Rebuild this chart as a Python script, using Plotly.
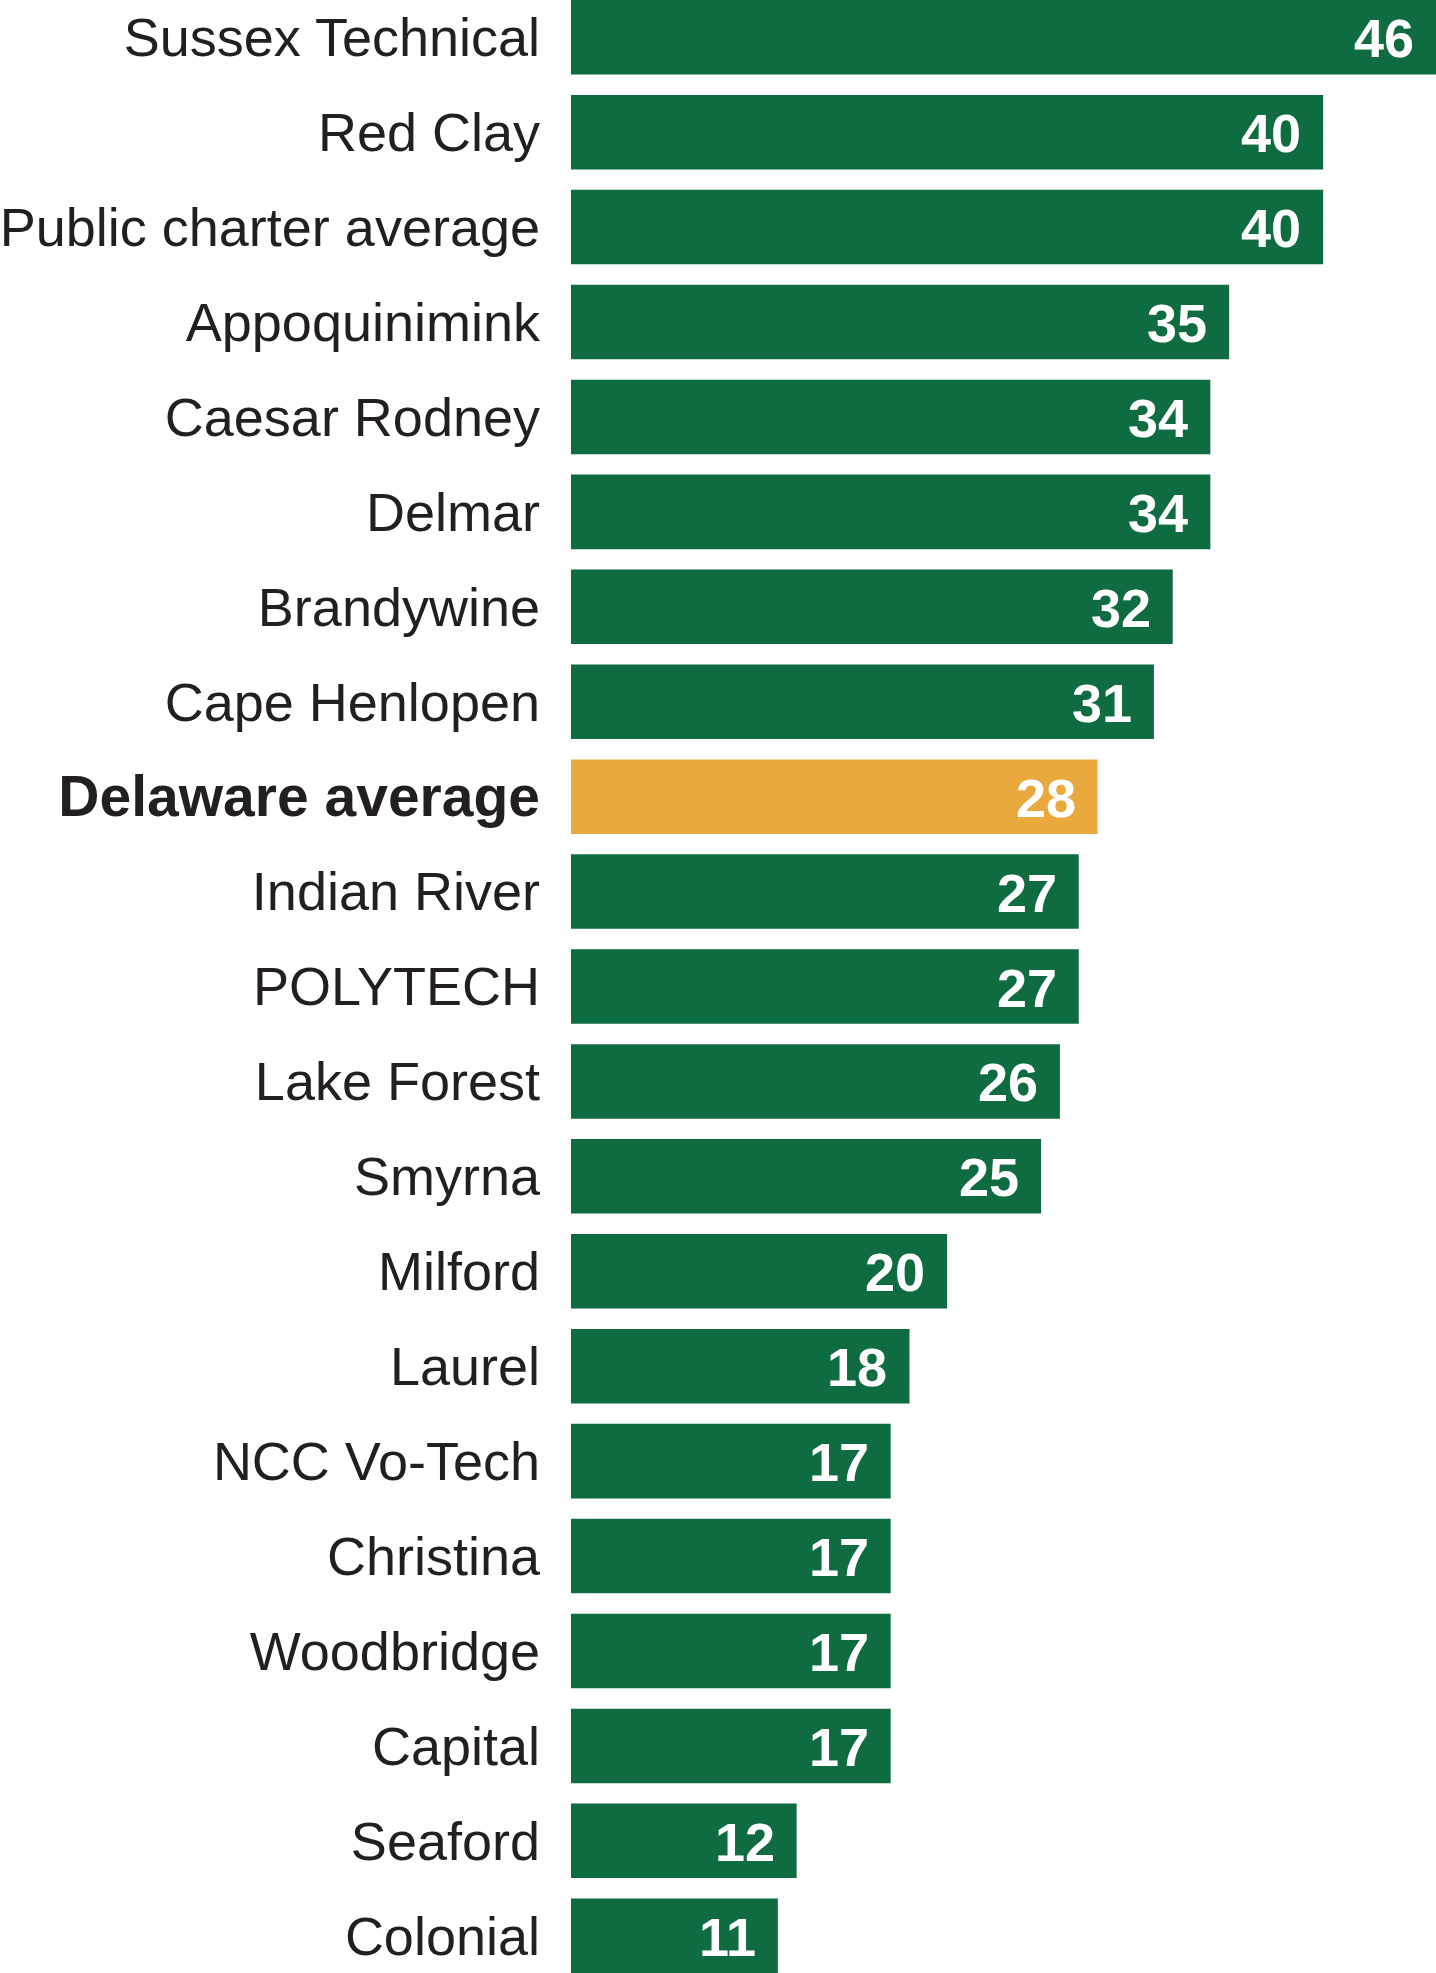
import plotly.graph_objects as go

districts = [
    "Sussex Technical", "Red Clay", "Public charter average", "Appoquinimink",
    "Caesar Rodney", "Delmar", "Brandywine", "Cape Henlopen", "Delaware average",
    "Indian River", "POLYTECH", "Lake Forest", "Smyrna", "Milford", "Laurel",
    "NCC Vo-Tech", "Christina", "Woodbridge", "Capital", "Seaford", "Colonial",
]
values = [46, 40, 40, 35, 34, 34, 32, 31, 28, 27, 27, 26, 25, 20, 18, 17, 17, 17, 17, 12, 11]
highlight = "Delaware average"

GREEN = "#0F6C40"
ORANGE = "#E9A93C"
TEXT = "#231F20"
FONT = "Liberation Sans, Arial, sans-serif"

positions = list(range(len(districts)))
colors = [ORANGE if d == highlight else GREEN for d in districts]
ticktext = [
    f"<b><span style='font-size:57px'>{d}</span></b>" if d == highlight else d
    for d in districts
]

bar_width = 0.785

fig = go.Figure(
    go.Bar(
        x=values,
        y=positions,
        orientation="h",
        width=bar_width,
        marker=dict(color=colors, line=dict(width=0)),
        hoverinfo="skip",
    )
)

for p, v in zip(positions, values):
    fig.add_annotation(
        x=v, y=p, xref="x", yref="y",
        text=f"<b>{v}</b>",
        showarrow=False,
        xanchor="right", yanchor="middle",
        xshift=-20, yshift=-1,
        font=dict(family=FONT, size=54, color="white"),
    )

half = bar_width / 2
fig.update_yaxes(
    range=[len(districts) - 1 + half, -half],
    tickmode="array",
    tickvals=positions,
    ticktext=ticktext,
    showgrid=False,
    zeroline=False,
    showline=False,
    ticks="",
    automargin=False,
    ticklabelstandoff=30,
    tickfont=dict(family=FONT, size=54, color=TEXT),
)
fig.update_xaxes(
    range=[0, 46],
    visible=False,
    showgrid=False,
    zeroline=False,
    automargin=False,
)
fig.update_layout(
    width=1436,
    height=1973,
    margin=dict(l=571, r=0, t=0, b=0, pad=0, autoexpand=False),
    plot_bgcolor="white",
    paper_bgcolor="white",
    showlegend=False,
)

fig.write_html(
    "out.html",
    config={"displayModeBar": False},
    post_script="document.body.style.margin='0';",
)
